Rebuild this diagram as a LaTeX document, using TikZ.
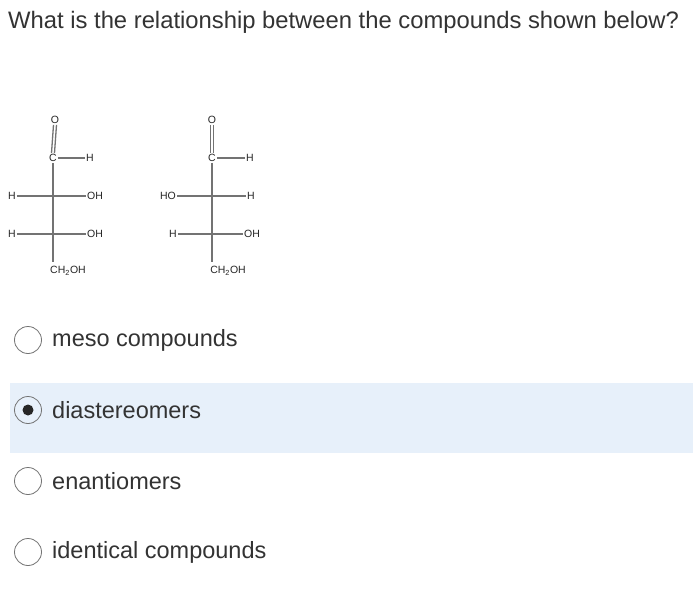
\documentclass[tikz,border=0pt]{standalone}
\usepackage{fontspec}
\setmainfont{Liberation Sans}
\definecolor{band}{HTML}{E7F0FA}
\begin{document}
\begin{tikzpicture}[x=1pt,y=-1pt,
  lbl/.style={font=\fontsize{10.5}{12}\selectfont, inner sep=1pt, text=black!85},
  bond/.style={draw=black!55, line width=1.3pt},
  opt/.style={circle, draw=black!55, line width=0.8pt, minimum size=27pt, inner sep=0pt},
  otext/.style={anchor=west, font=\fontsize{23.5}{26}\selectfont, text=black!80, inner sep=0pt}]
\useasboundingbox[fill=white] (0,0) rectangle (693,608);
\fill[band] (10,383) rectangle (693,453);
\node[anchor=west, inner sep=0pt, font=\fontsize{23.8}{26}\selectfont, text=black!80] (title) at (8,22) {What is the relationship between the compounds shown below?};
% left structure
\node[lbl] (o1) at (55,120) {O};
\node[lbl] (c1) at (53,158) {C};
\node[lbl] (h1) at (90,158) {H};
\node[lbl] (a1) at (12,196) {H};
\node[lbl] (b1) at (95,196) {OH};
\node[lbl] (a2) at (12,234) {H};
\node[lbl] (b2) at (95,234) {OH};
\node[lbl] (e1) at (68,271) {CH\textsubscript{2}OH};
\coordinate (bt1) at (53,262);
\draw[bond] ([xshift=-1.5pt]o1.south) -- ([xshift=-1.5pt]c1.north);
\draw[bond] ([xshift=1.5pt]o1.south) -- ([xshift=1.5pt]c1.north);
\draw[bond] (c1.east) -- (h1.west);
\draw[bond] (c1.south) -- (bt1);
\draw[bond] (a1.east) -- (b1.west);
\draw[bond] (a2.east) -- (b2.west);
% right structure
\node[lbl] (o2) at (212,120) {O};
\node[lbl] (c2) at (212,158) {C};
\node[lbl] (h2) at (250,158) {H};
\node[lbl] (a3) at (168,196) {HO};
\node[lbl] (b3) at (251,196) {H};
\node[lbl] (a4) at (173,234) {H};
\node[lbl] (b4) at (252,234) {OH};
\node[lbl] (e2) at (228,271) {CH\textsubscript{2}OH};
\coordinate (bt2) at (212,262);
\draw[bond] ([xshift=-1.5pt]o2.south) -- ([xshift=-1.5pt]c2.north);
\draw[bond] ([xshift=1.5pt]o2.south) -- ([xshift=1.5pt]c2.north);
\draw[bond] (c2.east) -- (h2.west);
\draw[bond] (c2.south) -- (bt2);
\draw[bond] (a3.east) -- (b3.west);
\draw[bond] (a4.east) -- (b4.west);
% options
\node[opt] (r1) at (28,340) {}; \node[otext] (t1) at (52,340) {meso compounds};
\node[opt] (r2) at (28,410) {}; \fill[black!85] (r2) circle (5.5);
\node[otext] (t2) at (52,410) {diastereomers};
\node[opt] (r3) at (28,481) {}; \node[otext] (t3) at (52,481) {enantiomers};
\node[opt] (r4) at (28,552) {}; \node[otext] (t4) at (52,552) {identical compounds};
\end{tikzpicture}
\end{document}
